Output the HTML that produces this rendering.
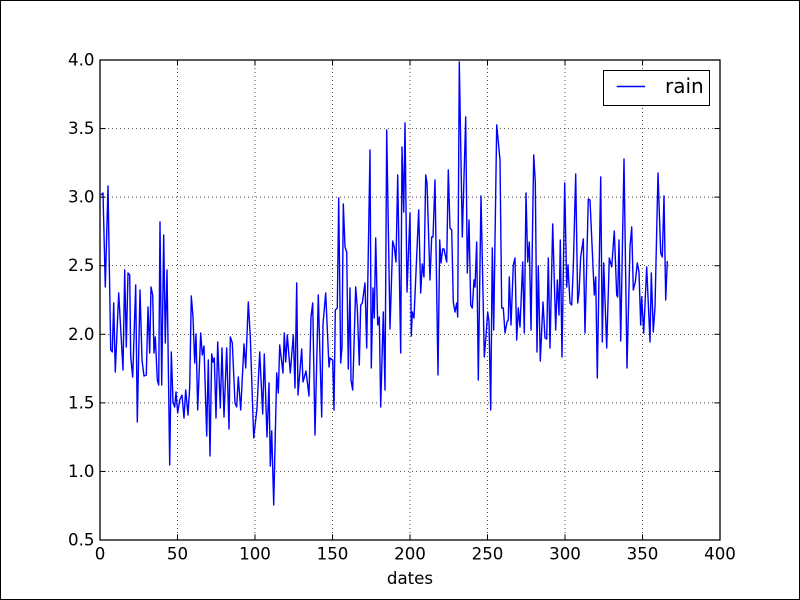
<!DOCTYPE html>
<html>
<head>
<meta charset="utf-8">
<style>
html,body{margin:0;padding:0;background:#fff;}
body{width:800px;height:600px;overflow:hidden;}
svg{display:block;}
text{font-family:"DejaVu Sans","Liberation Sans",sans-serif;fill:#000;}
</style>
</head>
<body>
<svg width="800" height="600" viewBox="0 0 800 600" xmlns="http://www.w3.org/2000/svg">
<rect x="0" y="0" width="800" height="600" fill="#fff"/>
<rect x="0.5" y="0.5" width="799" height="599" fill="none" stroke="#000" stroke-width="1"/>
<rect x="100" y="60" width="620" height="480" fill="#fff"/>
<!-- grid -->
<g stroke="#000" stroke-width="0.7" stroke-dasharray="1,3" fill="none">
<line x1="177.5" y1="60" x2="177.5" y2="540"/>
<line x1="255" y1="60" x2="255" y2="540"/>
<line x1="332.5" y1="60" x2="332.5" y2="540"/>
<line x1="410" y1="60" x2="410" y2="540"/>
<line x1="487.5" y1="60" x2="487.5" y2="540"/>
<line x1="565" y1="60" x2="565" y2="540"/>
<line x1="642.5" y1="60" x2="642.5" y2="540"/>
<line x1="100" y1="471.43" x2="720" y2="471.43"/>
<line x1="100" y1="402.86" x2="720" y2="402.86"/>
<line x1="100" y1="334.29" x2="720" y2="334.29"/>
<line x1="100" y1="265.71" x2="720" y2="265.71"/>
<line x1="100" y1="197.14" x2="720" y2="197.14"/>
<line x1="100" y1="128.57" x2="720" y2="128.57"/>
</g>
<!-- data -->
<polyline fill="none" stroke="#0000ff" stroke-width="1.4" stroke-linejoin="round" stroke-linecap="butt" points="
101,195 103,193 105.3,287 108,186 110.7,350 112.3,352 113.7,303 115.3,372 118.7,293 123,370 124.7,270 126.3,347 128,273 129.7,275 130.7,357 132.7,377 135.7,285 137.3,422 140,290 142,360 144,376 146.3,375 148,307 149.7,353 151,287 152.7,295 154,353 155.3,337 157.3,380 158.7,385 160,222 161.7,385 163.7,235 165.3,343 167,270 169.7,465 171.3,352 173,402 174.7,407 176,392 177.7,413 179.7,400 182,395 184,418 185.7,390 188,415 189.7,387 191.3,296 193,317 194.7,363 196,334 197.7,410 200.7,333 202.3,355 204,346 206.7,436 208.3,360 210,456 211.7,354 213,362 214.3,358 216,418 217.7,342 220.3,408 222,348 224,417
226.7,348 229,429 230.3,337 232.3,343 235,403 236.7,407 238.3,377 240.7,410 244,344 245.7,368 248.3,302 250.3,337 253.7,438 257,408 259.7,352 262.7,414 264.3,354 267,437 269,383 270.3,466 271.7,431 273.7,505 276.7,373 278.3,393 279.7,345 283,373 284.3,333 285.7,362 287.3,335 290.3,373 293.3,335 295,388 296.7,283 298,395 301.7,349 303,382 306,371 309,396 311,317 312.7,303 315,435 318.3,295 321.7,417 323,324 325.7,293 329,367
330,358 332.7,360 334,410 335.3,310 337.3,308 338.7,198 340.7,363 342,347 343.3,204 345,247 346.7,252 348.3,369 350,288 351,380 352.7,390 355.7,287 357.3,308 359.3,365 360.7,305 362.3,303 365,283 366.7,348 370,150 371.3,368 373,288 374.3,318 375.7,238 377.7,325 379.3,317 380.7,407 383.3,312 385,390 386.7,130 390,329 392.7,241 394.3,247 396,262 397.7,175 400.7,353 402,147 403.7,212 405,123 407,292 410,213 411.3,336 412.3,312 414,318 418.7,210 420.7,293 422.3,264 424,277 425.7,175 427,183 430,280 431.7,237 433,237 435,180 438,375 439.7,240 441,263 442.7,249 444,249 446.7,262 448.3,170
450,228 451.7,230 453.3,302 455,312 456.7,303 457.7,317 459.3,62 462.3,237 465.7,117 467.3,273 469,220 470.7,305 472.3,308 474,280 475,287 476.7,242 478.3,380 481,196 484.3,357 486.3,332 487.7,312 489,322 490.7,410 492.3,248 493.7,330 496.7,125 500,160 501.7,308 503.3,308 505,333 507,322 508.3,320 509.3,277 511,325 513.3,265 515,258 516.7,340 518.3,308 520,327 522.7,262 524.3,333 526,193 527.7,262 529.3,242 531,330 533.7,155 535.3,182 537,352 538.3,266 540.3,361 543,302 545,338 546.7,339 548.3,258
550,348 552.7,224 555.7,330 557.3,280 559,315 560.3,240 562,357 564.7,183 566.7,287 568,265 570,303 571.7,305 573.3,267 575.7,174 577.7,303 579,293 580.7,257 583.3,239 585,333 588.3,199 590,200 594.3,295 595.7,277 597.3,378 600.7,177 602.3,342 603.7,263 606.7,348 609.3,258 611.7,267 614.3,231 616.7,295 617.7,297 619,240 620.7,341 624,159 627,368 630,247 631.7,227 633.3,290 635.3,282 637.3,263 639,272 640.7,325 641.7,297 643.7,333 646.7,267 650,342 651.3,273 653.3,332 655,307 658,173 660.7,253 662.3,257 664,196 665.7,300 667.3,261"/>
<!-- ticks -->
<g stroke="#000" stroke-width="1">
<line x1="100" y1="540" x2="100" y2="534.4"/><line x1="177.5" y1="540" x2="177.5" y2="534.4"/><line x1="255" y1="540" x2="255" y2="534.4"/><line x1="332.5" y1="540" x2="332.5" y2="534.4"/><line x1="410" y1="540" x2="410" y2="534.4"/><line x1="487.5" y1="540" x2="487.5" y2="534.4"/><line x1="565" y1="540" x2="565" y2="534.4"/><line x1="642.5" y1="540" x2="642.5" y2="534.4"/><line x1="720" y1="540" x2="720" y2="534.4"/>
<line x1="100" y1="60" x2="100" y2="65.6"/><line x1="177.5" y1="60" x2="177.5" y2="65.6"/><line x1="255" y1="60" x2="255" y2="65.6"/><line x1="332.5" y1="60" x2="332.5" y2="65.6"/><line x1="410" y1="60" x2="410" y2="65.6"/><line x1="487.5" y1="60" x2="487.5" y2="65.6"/><line x1="565" y1="60" x2="565" y2="65.6"/><line x1="642.5" y1="60" x2="642.5" y2="65.6"/><line x1="720" y1="60" x2="720" y2="65.6"/>
<line x1="100" y1="540" x2="105.6" y2="540"/><line x1="100" y1="471.43" x2="105.6" y2="471.43"/><line x1="100" y1="402.86" x2="105.6" y2="402.86"/><line x1="100" y1="334.29" x2="105.6" y2="334.29"/><line x1="100" y1="265.71" x2="105.6" y2="265.71"/><line x1="100" y1="197.14" x2="105.6" y2="197.14"/><line x1="100" y1="128.57" x2="105.6" y2="128.57"/><line x1="100" y1="60" x2="105.6" y2="60"/>
<line x1="720" y1="540" x2="714.4" y2="540"/><line x1="720" y1="471.43" x2="714.4" y2="471.43"/><line x1="720" y1="402.86" x2="714.4" y2="402.86"/><line x1="720" y1="334.29" x2="714.4" y2="334.29"/><line x1="720" y1="265.71" x2="714.4" y2="265.71"/><line x1="720" y1="197.14" x2="714.4" y2="197.14"/><line x1="720" y1="128.57" x2="714.4" y2="128.57"/><line x1="720" y1="60" x2="714.4" y2="60"/>
</g>
<!-- axes frame -->
<rect x="100" y="60" width="620" height="480" fill="none" stroke="#000" stroke-width="1.3"/>
<!-- x tick labels -->
<g font-size="16.67" text-anchor="middle">
<text x="100" y="559.5">0</text>
<text x="177.5" y="559.5">50</text>
<text x="255" y="559.5">100</text>
<text x="332.5" y="559.5">150</text>
<text x="410" y="559.5">200</text>
<text x="487.5" y="559.5">250</text>
<text x="565" y="559.5">300</text>
<text x="642.5" y="559.5">350</text>
<text x="720" y="559.5">400</text>
</g>
<!-- y tick labels -->
<g font-size="16.67" text-anchor="end">
<text x="94.5" y="545.5">0.5</text>
<text x="94.5" y="476.9">1.0</text>
<text x="94.5" y="408.4">1.5</text>
<text x="94.5" y="339.8">2.0</text>
<text x="94.5" y="271.2">2.5</text>
<text x="94.5" y="202.6">3.0</text>
<text x="94.5" y="134.1">3.5</text>
<text x="94.5" y="65.5">4.0</text>
</g>
<text x="410" y="584" font-size="16.67" text-anchor="middle">dates</text>
<!-- legend -->
<rect x="603.5" y="70.5" width="106" height="35" fill="#fff" stroke="#000" stroke-width="1"/>
<line x1="616.7" y1="86.5" x2="645" y2="86.5" stroke="#0000ff" stroke-width="1.4"/>
<text x="665" y="93" font-size="20">rain</text>
</svg>
</body>
</html>
